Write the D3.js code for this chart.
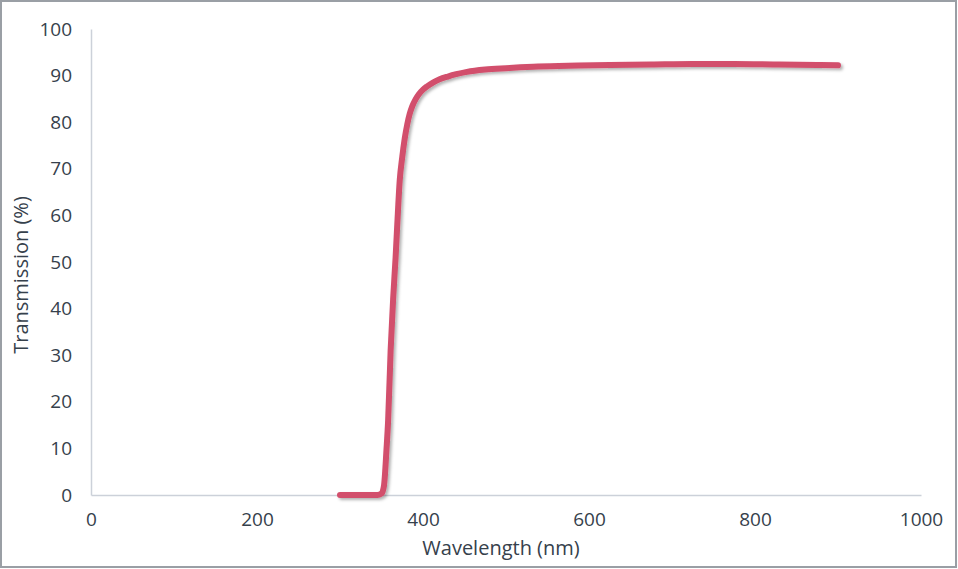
<!DOCTYPE html>
<html>
<head>
<meta charset="utf-8">
<script src="https://cdn.jsdelivr.net/npm/d3@7"></script>
<style>
  html, body { margin: 0; padding: 0; background: #fff; }
  svg { display: block; }
  .tick text { font-family: "Open Sans", sans-serif; font-size: 19px; fill: #36414c; }
  .axis-title { font-family: "Open Sans", sans-serif; font-size: 20px; fill: #36414c; }
</style>
</head>
<body>
<svg width="958" height="569"></svg>
<script>
// transmission curve
var wavelength = [300, 345, 350, 353, 356, 358, 361, 364, 367, 369, 372, 375, 378, 381, 384, 387, 391, 395, 400, 405, 412, 420, 430, 440, 453, 475, 500, 533, 575, 625, 675, 725, 775, 825, 875, 900];
var transmission = [0, 0, 0.3, 2, 9.7, 16, 31, 42, 51, 58, 67.6, 72.5, 76.5, 79.5, 81.8, 83.4, 84.9, 86, 87, 87.7, 88.5, 89.2, 89.8, 90.3, 90.8, 91.3, 91.6, 91.9, 92.1, 92.3, 92.4, 92.5, 92.5, 92.4, 92.3, 92.2];
var xTicks = [0, 200, 400, 600, 800, 1000];
var yTicks = [0, 10, 20, 30, 40, 50, 60, 70, 80, 90, 100];

var data = wavelength.map(function(w, i) { return {w: w, t: transmission[i]}; });

var svg = d3.select("svg"),
	margin = {top: 29, right: 37, bottom: 74, left: 91},
	width = +svg.attr("width") - margin.left - margin.right,
	height = +svg.attr("height") - margin.top - margin.bottom;

// outer frame
svg.append("rect")
	.attr("x", 1).attr("y", 1)
	.attr("width", 955).attr("height", 566)
	.attr("fill", "none")
	.attr("stroke", "#9a9fa5")
	.attr("stroke-width", 2);

var defs = svg.append("defs");
var f = defs.append("filter").attr("id", "shadow")
	.attr("x", "-10%").attr("y", "-10%").attr("width", "120%").attr("height", "120%");
f.append("feDropShadow")
	.attr("dx", 2).attr("dy", 2).attr("stdDeviation", 1.5)
	.attr("flood-color", "#000").attr("flood-opacity", 0.3);

var x = d3.scaleLinear().domain([0, 1000]).range([0, width]),
	y = d3.scaleLinear().domain([0, 100]).range([height, 0]);

var g = svg.append("g")
	.attr("transform", "translate(" + margin.left + "," + margin.top + ")");

var xAxis = g.append("g")
	.attr("transform", "translate(0," + height + ")")
	.call(d3.axisBottom(x).tickValues(xTicks).tickFormat(d3.format("d")).tickSize(0).tickPadding(18));
xAxis.select(".domain").attr("stroke", "#ccd1d9").attr("stroke-width", 1.5);

var yAxis = g.append("g")
	.call(d3.axisLeft(y).tickValues(yTicks).tickSize(0).tickPadding(19));
yAxis.select(".domain").attr("stroke", "#ccd1d9").attr("stroke-width", 1.5);

g.append("text")
	.attr("class", "axis-title")
	.attr("x", 410)
	.attr("y", height + 60)
	.attr("text-anchor", "middle")
	.text("Wavelength (nm)");

g.append("text")
	.attr("class", "axis-title")
	.attr("transform", "rotate(-90)")
	.attr("x", -246)
	.attr("y", -63)
	.attr("text-anchor", "middle")
	.text("Transmission (%)");

var line = d3.line()
	.x(function(d) { return x(d.w); })
	.y(function(d) { return y(d.t); })
	.curve(d3.curveMonotoneX);

g.append("path")
	.datum(data)
	.attr("fill", "none")
	.attr("stroke", "#d24f6c")
	.attr("stroke-width", 6)
	.attr("stroke-linecap", "round")
	.attr("stroke-linejoin", "round")
	.attr("filter", "url(#shadow)")
	.attr("d", line);
</script>
</body>
</html>
